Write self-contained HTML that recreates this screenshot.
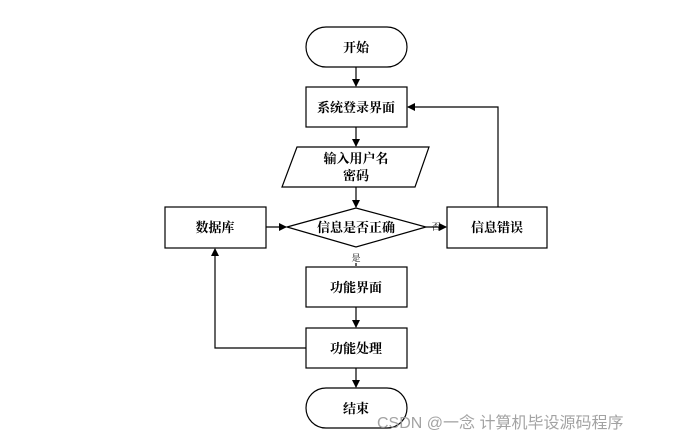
<!DOCTYPE html>
<html><head><meta charset="utf-8"><style>
html,body{margin:0;padding:0;background:#fff;}
svg{display:block;}
text{font-family:"Liberation Serif","Noto Serif CJK SC",serif;font-weight:bold;font-size:13px;fill:#000;}
</style></head><body>
<svg width="690" height="441" viewBox="0 0 690 441" xmlns="http://www.w3.org/2000/svg">
<defs><marker id="a" markerWidth="8" markerHeight="8" refX="7" refY="4" orient="auto" markerUnits="userSpaceOnUse"><path d="M0,0 L8,4 L0,8 z" fill="#000"/></marker></defs>
<g fill="none" stroke="#000" stroke-width="1.2">
<rect x="306" y="27" width="101" height="40" rx="20"/>
<rect x="306" y="87" width="101" height="40"/>
<polygon points="297,147 429,147 415,187 282,187"/>
<polygon points="287,227 356,208 426,227 356,247"/>
<rect x="165" y="207" width="101" height="41"/>
<rect x="447" y="207" width="100" height="41"/>
<rect x="306" y="267" width="101" height="40"/>
<rect x="306" y="328" width="101" height="40"/>
<rect x="306" y="388" width="101" height="40" rx="20"/>
<line x1="356" y1="67" x2="356" y2="86" marker-end="url(#a)"/>
<line x1="356" y1="127" x2="356" y2="146" marker-end="url(#a)"/>
<line x1="356" y1="187" x2="356" y2="207" marker-end="url(#a)"/>
<line x1="266" y1="227" x2="286" y2="227" marker-end="url(#a)"/>
<line x1="426" y1="227" x2="446" y2="227" marker-end="url(#a)"/>
<polyline points="498,207 498,107 408,107" marker-end="url(#a)"/>
<line x1="356" y1="307" x2="356" y2="327" marker-end="url(#a)"/>
<line x1="356" y1="368" x2="356" y2="387" marker-end="url(#a)"/>
<polyline points="306,348 215,348 215,249" marker-end="url(#a)"/>
<line x1="356" y1="263" x2="356" y2="266"/>
</g>
<g text-anchor="middle">
<text x="356" y="52">开始</text>
<text x="356" y="112">系统登录界面</text>
<text x="356" y="163">输入用户名</text>
<text x="356" y="180">密码</text>
<text x="356" y="232">信息是否正确</text>
<text x="215" y="232">数据库</text>
<text x="497" y="232">信息错误</text>
<text x="356" y="292">功能界面</text>
<text x="356" y="353">功能处理</text>
<text x="356" y="413">结束</text>
<text x="356" y="261" style="font-size:9px;font-weight:normal">是</text>
<text x="436" y="230" style="font-size:9px;font-weight:normal">否</text>
</g>
<text x="377" y="428" style="font-family:'Liberation Sans','Noto Sans CJK SC',sans-serif;font-weight:normal;font-size:16px;fill:#9a9a9a;opacity:0.9">CSDN @一念 计算机毕设源码程序</text>
</svg>
</body></html>
